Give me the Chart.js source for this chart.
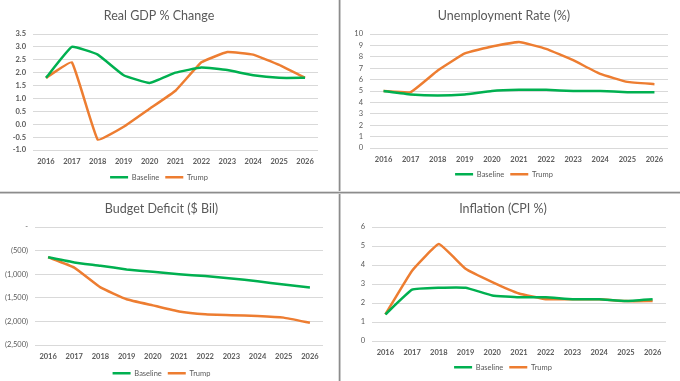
<!DOCTYPE html>
<html>
<head>
<meta charset="utf-8">
<script src="https://cdn.jsdelivr.net/npm/chart.js"></script>
<style>
  html, body { margin: 0; padding: 0; background: #fff; }
  #wrap { position: relative; width: 680px; height: 381px; overflow: hidden; }
  canvas { position: absolute; }
  .vline { position: absolute; left: 339px; top: 0; width: 1px; height: 381px; background: #8c8c8c; box-shadow: 1px 0 0 #c8c8c8, -1px 0 0 #dcdcdc; }
  .hline { position: absolute; left: 0; top: 192px; width: 680px; height: 1px; background: #8c8c8c; box-shadow: 0 1px 0 #c8c8c8, 0 -1px 0 #dcdcdc; }
</style>
</head>
<body>
<div id="wrap">
  <canvas id="gdp" width="338" height="191" style="left:0;top:0"></canvas>
  <canvas id="unemp" width="340" height="191" style="left:340px;top:0"></canvas>
  <canvas id="deficit" width="338" height="196" style="left:0;top:193px"></canvas>
  <canvas id="cpi" width="340" height="196" style="left:340px;top:193px"></canvas>
  <div class="vline"></div>
  <div class="hline"></div>
</div>
<script>
const years = ['2016', '2017', '2018', '2019', '2020', '2021', '2022', '2023', '2024', '2025', '2026'];

const gdpBaseline = [1.8, 3.0, 2.7, 1.9, 1.6, 2.0, 2.2, 2.1, 1.9, 1.8, 1.8];
const gdpTrump = [1.8, 2.4, -0.6, -0.1, 0.6, 1.3, 2.4, 2.8, 2.7, 2.3, 1.8];

const unempBaseline = [5.0, 4.7, 4.6, 4.7, 5.0, 5.1, 5.1, 5.0, 5.0, 4.9, 4.9];
const unempTrump = [5.0, 4.9, 6.8, 8.3, 8.9, 9.3, 8.7, 7.7, 6.5, 5.8, 5.6];

const deficitBaseline = [-640, -750, -820, -900, -950, -1000, -1040, -1090, -1150, -1220, -1280];
const deficitTrump = [-640, -860, -1280, -1530, -1660, -1790, -1850, -1870, -1885, -1920, -2030];

const cpiBaseline = [1.4, 2.7, 2.8, 2.8, 2.4, 2.3, 2.3, 2.2, 2.2, 2.1, 2.2];
const cpiTrump = [1.4, 3.7, 5.1, 3.8, 3.1, 2.5, 2.2, 2.2, 2.2, 2.1, 2.1];

const GREEN = '#00b050';
const ORANGE = '#ed7d31';
const TEXT = '#595959';
const FONT = 'Lato, "Liberation Sans", sans-serif';

function makeChart(id, title, base, trump, y, box) {
    const ctx = document.getElementById(id).getContext('2d');
    return new Chart(ctx, {
        type: 'line',
        data: {
            labels: years,
            datasets: [
                { label: 'Baseline', data: base, borderColor: GREEN, backgroundColor: GREEN, borderWidth: 2.5, pointRadius: 0, tension: 0.1 },
                { label: 'Trump', data: trump, borderColor: ORANGE, backgroundColor: ORANGE, borderWidth: 2.5, pointRadius: 0, tension: 0.1 }
            ]
        },
        options: {
            responsive: false,
            animation: false,
            events: [],
            layout: { padding: { left: 0, right: box.right, top: 0, bottom: box.bottom } },
            scales: {
                x: {
                    offset: true,
                    grid: { display: false },
                    border: { display: false },
                    ticks: { color: TEXT, font: { family: FONT, size: 7.5, weight: 'bold' }, padding: -1, maxRotation: 0, autoSkip: false },
                    afterFit: (s) => { s.height = box.xHeight; }
                },
                y: {
                    min: y.min,
                    max: y.max,
                    border: { display: false },
                    grid: { color: '#d9d9d9', drawTicks: false, lineWidth: 1 },
                    ticks: { stepSize: y.step, autoSkip: false, color: TEXT, font: { family: FONT, size: 7.5, weight: y.weight }, padding: 7, callback: y.format },
                    afterFit: (s) => { s.width = box.left; }
                }
            },
            plugins: {
                title: {
                    display: true,
                    text: title,
                    color: TEXT,
                    font: { family: FONT, size: 12.5, weight: 'normal' },
                    padding: { top: 8, bottom: 11 }
                },
                legend: {
                    position: 'bottom',
                    labels: {
                        color: TEXT,
                        font: { family: FONT, size: 7.5 },
                        boxWidth: 18,
                        boxHeight: 2.5,
                        padding: 6,
                        generateLabels: (chart) => Chart.defaults.plugins.legend.labels.generateLabels(chart).map(l => ({ ...l, lineWidth: 0 }))
                    }
                },
                tooltip: { enabled: false }
            }
        }
    });
}

makeChart('gdp', 'Real GDP % Change', gdpBaseline, gdpTrump,
    { min: -1, max: 3.5, step: 0.5, weight: 'bold', format: (v) => v.toFixed(1) },
    { left: 33, right: 20, bottom: 0, xHeight: 17.5 });

makeChart('unemp', 'Unemployment Rate (%)', unempBaseline, unempTrump,
    { min: 0, max: 10, step: 1, weight: 'normal', format: (v) => v },
    { left: 30, right: 12, bottom: 3, xHeight: 16.5 });

makeChart('deficit', 'Budget Deficit ($ Bil)', deficitBaseline, deficitTrump,
    { min: -2500, max: 0, step: 500, weight: 'normal', format: (v) => v === 0 ? '-' : '(' + Math.abs(v).toLocaleString('en-US') + ')' },
    { left: 35, right: 15, bottom: 2, xHeight: 18.5 });

makeChart('cpi', 'Inflation (CPI %)', cpiBaseline, cpiTrump,
    { min: 0, max: 6, step: 1, weight: 'normal', format: (v) => v },
    { left: 32, right: 14, bottom: 8, xHeight: 16.5 });
</script>
</body>
</html>
